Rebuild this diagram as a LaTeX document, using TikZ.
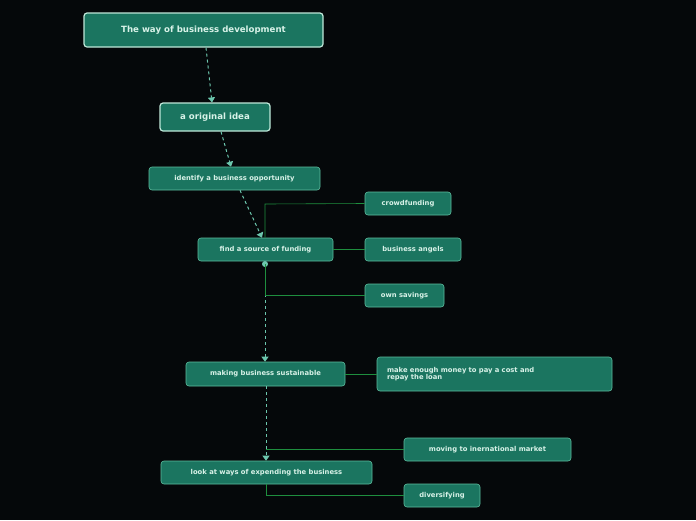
\documentclass[tikz,border=0pt]{standalone}
\usepackage{fontspec}
\setmainfont{DejaVu Sans}
\usetikzlibrary{arrows.meta}
\definecolor{bg}{HTML}{05080A}
\definecolor{nf}{HTML}{1B7560}
\definecolor{nd}{HTML}{5DBE9F}
\definecolor{tx}{HTML}{D8F2E8}
\definecolor{ln}{HTML}{1E8E3E}
\definecolor{ar}{HTML}{6CC7AE}
\begin{document}
\begin{tikzpicture}[x=1pt,y=-1pt,
 box/.style={draw=nd,fill=nf,rounded corners=3pt,text=tx,font=\bfseries\fontsize{6.8}{7.5}\selectfont,minimum height=23pt,inner sep=0pt,line width=0.6pt},
 big/.style={box,draw=tx!80!nd,line width=1.2pt,font=\bfseries\fontsize{8.6}{10}\selectfont},
 arr/.style={ar,dashed,line width=1pt,dash pattern=on 3pt off 3pt,-{Triangle[width=7pt,length=5pt]}},
 con/.style={ln,line width=0.6pt}]
\fill[bg] (0,0) rectangle (696,520);
\useasboundingbox (0,0) rectangle (696,520);
\node[big,minimum width=239pt,minimum height=34pt] (t) at (203.5,30) {The way of business development};
\node[big,minimum width=110pt,minimum height=28pt] (i) at (215,117) {a original idea};
\node[box,minimum width=171pt] (o) at (234.5,178.5) {identify a business opportunity};
\node[box,minimum width=135pt] (f) at (265.5,249.5) {find a source of funding};
\node[box,minimum width=86pt] (c) at (408,203.5) {crowdfunding};
\node[box,minimum width=96pt] (a) at (413,249.5) {business angels};
\node[box,minimum width=79pt] (s) at (404.5,295.5) {own savings};
\node[box,minimum width=159pt,minimum height=24pt] (m) at (265.5,374) {making business sustainable};
\node[box,minimum width=235pt,minimum height=34pt,align=left,text width=215pt] (e) at (494.5,374) {make enough money to pay a cost and\\repay the loan};
\node[box,minimum width=167pt] (mv) at (487.5,449.5) {moving to inernational market};
\node[box,minimum width=211pt] (l) at (266.5,472.5) {look at ways of expending the business};
\node[box,minimum width=76pt] (d) at (442,495.5) {diversifying};
\coordinate (dot) at (265,264);
\fill[ar] (dot) circle (3pt);
\draw[arr] (t.south -| 206,0) -- (i.north -| 212,0);
\draw[arr] (i.south -| 221,0) -- (o.north -| 231,0);
\draw[arr] (o.south -| 240,0) -- (f.north -| 262,0);
\draw[arr] (dot) -- (m.north -| 265,0);
\draw[arr] (m.south -| 266,0) -- (l.north -| 266,0);
\draw[con] (f.north -| 265,0) -- (265,204) -- (c.west);
\draw[con] (f.east) -- (a.west);
\draw[con] (dot) -- (265,295.5) -- (s.west);
\draw[con] (m.east) -- (e.west);
\draw[con] (266,449.5) -- (mv.west);
\draw[con] (l.south -| 266,0) -- (266,495.5) -- (d.west);
\end{tikzpicture}
\end{document}
